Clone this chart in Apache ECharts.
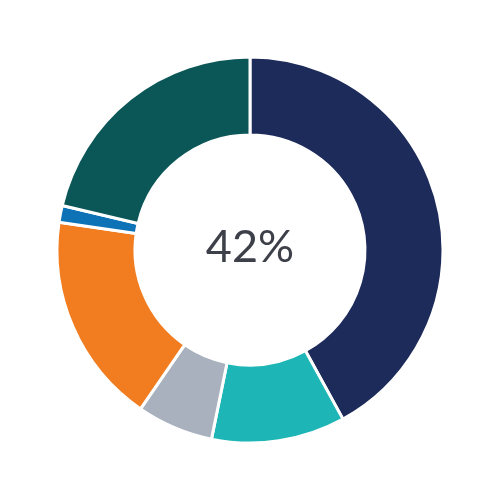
<!DOCTYPE html>
<html>
	<head>
		<meta charset="UTF-8">
		<title>Donut</title>
		<script src="https://cdn.jsdelivr.net/npm/echarts@6/dist/echarts.min.js" type="text/javascript" charset="utf-8"></script>
		<style type="text/css">
			html, body {
				margin: 0;
				padding: 0;
				background: #fff;
			}
			#chart {
				width: 500px;
				height: 500px;
			}
		</style>
	</head>
	<body>
		<div id="chart"></div>
		<script type="text/javascript">
			// slice shares, clockwise from 12 o'clock
			var names = ['A', 'B', 'C', 'D', 'E', 'F'];
			var values = [42, 11.2, 6.4, 17.7, 1.4, 21.3];
			var colors = ['#1d2b5a', '#1db5b6', '#a9b1be', '#f27d20', '#0e72b7', '#0b5657'];
			var centerLabel = '42%';

			var data = [];
			for (var i = 0; i < values.length; i++) {
				data.push({ name: names[i], value: values[i], itemStyle: { color: colors[i] } });
			}

			var chart = echarts.init(document.getElementById('chart'));
			chart.setOption({
				animation: false,
				graphic: [{
					type: 'text',
					x: 250,
					y: 247,
					style: {
						text: centerLabel,
						align: 'center',
						verticalAlign: 'middle',
						fontFamily: 'Lato',
						fontWeight: 'normal',
						fontSize: 45,
						fill: '#3d4049'
					}
				}],
				series: [{
					type: 'pie',
					center: ['50%', '50%'],
					radius: [115, 193],
					startAngle: 90,
					clockwise: true,
					label: { show: false },
					labelLine: { show: false },
					itemStyle: {
						borderColor: '#fff',
						borderWidth: 3
					},
					data: data
				}]
			});
		</script>
	</body>
</html>
